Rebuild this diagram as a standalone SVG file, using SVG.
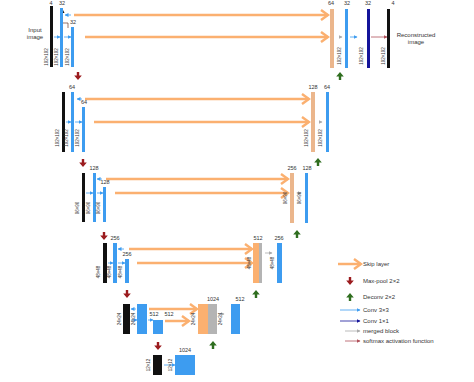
<svg xmlns="http://www.w3.org/2000/svg" width="474" height="382" viewBox="0 0 474 382">
<defs>
<style>
text{font-family:"Liberation Sans",Arial,sans-serif;fill:#333}
.lb{font-size:5.5px;text-anchor:middle}
.rl{font-size:4.5px;text-anchor:middle}
.lg{font-size:6px}
.io{font-size:6px;text-anchor:middle}
.k{fill:#111}
.b{fill:#3d9cf0}
.t{fill:#ebb68c}
.o{fill:#fbb070}
.g{fill:#b4b4b4}
.d{fill:#14149a}
.skip{stroke:#fbb070;stroke-width:2.5;fill:none;marker-end:url(#ma)}
.cv{stroke:#3d9cf0;stroke-width:0.8;fill:none;marker-end:url(#mb)}
.c1{stroke:#14149a;stroke-width:0.8;fill:none;marker-end:url(#md)}
.mg{stroke:#aaa;stroke-width:0.8;fill:none;marker-end:url(#mg)}
.sm{stroke:#b0505a;stroke-width:0.8;fill:none;marker-end:url(#mr)}
.mp{fill:#9b1b1e}
.dc{fill:#2f6e1f}
</style>
<marker id="ma" markerUnits="userSpaceOnUse" markerWidth="10" markerHeight="12" refX="8" refY="6" orient="auto"><path d="M1,1 L8,6 L1,11" fill="none" stroke="#fbb070" stroke-width="2.5"/></marker>
<marker id="mb" markerUnits="userSpaceOnUse" markerWidth="4" markerHeight="4" refX="3.5" refY="2" orient="auto"><path d="M0,0 L4,2 L0,4 Z" fill="#3d9cf0"/></marker>
<marker id="md" markerUnits="userSpaceOnUse" markerWidth="4" markerHeight="4" refX="3.5" refY="2" orient="auto"><path d="M0,0 L4,2 L0,4 Z" fill="#14149a"/></marker>
<marker id="mg" markerUnits="userSpaceOnUse" markerWidth="4" markerHeight="4" refX="3.5" refY="2" orient="auto"><path d="M0,0 L4,2 L0,4 Z" fill="#aaa"/></marker>
<marker id="mr" markerUnits="userSpaceOnUse" markerWidth="4" markerHeight="4" refX="3.5" refY="2" orient="auto"><path d="M0,0 L4,2 L0,4 Z" fill="#b0505a"/></marker>
<marker id="mk" markerUnits="userSpaceOnUse" markerWidth="5" markerHeight="5" refX="4" refY="2.5" orient="auto"><path d="M0,0 L5,2.5 L0,5 Z" fill="#111"/></marker>
<path id="dn" d="M-1.2,0 H1.2 V3.5 H3.8 L0,8 L-3.8,3.5 H-1.2 Z"/>
<path id="up" d="M-1.2,8 H1.2 V4.5 H3.8 L0,0 L-3.8,4.5 H-1.2 Z"/>
</defs>

<g id="connectors">
<path class="skip" d="M74,15 H328"/>
<path class="skip" d="M85,37 H328"/>
<path class="skip" d="M85,99 H309"/>
<path class="skip" d="M94,122 H309"/>
<path class="skip" d="M106,179 H288"/>
<path class="skip" d="M115,193 H288"/>
<path class="skip" d="M129,249 H252"/>
<path class="skip" d="M137,263 H252"/>
<path class="skip" d="M149,309 H197"/>
<path class="skip" d="M165,321 H189"/>
<path class="cv" d="M71,15 H65"/>
<path class="cv" d="M54,37 H60"/>
<path class="cv" d="M64,37 H71"/>
<path d="M62,23 H68 V28" fill="none" stroke="#6b3b2b" stroke-width="0.7"/>
<path d="M62,22 V9" fill="none" stroke="#111" stroke-width="0.8" marker-end="url(#mk)"/>
<path class="mg" d="M339,37 H342"/>
<path class="cv" d="M350,37 H357"/>
<path class="sm" d="M371,37 H387"/>
<path class="cv" d="M82,99 H77"/>
<path class="cv" d="M66,122 H71"/>
<path class="cv" d="M75,122 H82"/>
<path class="mg" d="M319,122 H322"/>
<path class="cv" d="M102,179 H97"/>
<path class="cv" d="M86,193 H93"/>
<path class="cv" d="M97,193 H103"/>
<path class="mg" d="M298,193 H301"/>
<path class="cv" d="M124,249 H118"/>
<path class="cv" d="M108,263 H113"/>
<path class="cv" d="M118,263 H125"/>
<path class="mg" d="M265,253 H272"/>
<path class="cv" d="M136,309 H131"/>
<path class="cv" d="M131,320 H137"/>
<path class="cv" d="M148,320 H153"/>
<path class="mg" d="M221,314 H224"/>
<path class="cv" d="M164,365 H175"/>
<use href="#dn" class="mp" x="78" y="72"/>
<use href="#dn" class="mp" x="83" y="159"/>
<use href="#dn" class="mp" x="104" y="232"/>
<use href="#dn" class="mp" x="127" y="290"/>
<use href="#dn" class="mp" x="158" y="342"/>
<use href="#up" class="dc" x="340" y="72"/>
<use href="#up" class="dc" x="318" y="158"/>
<use href="#up" class="dc" x="297" y="230"/>
<use href="#up" class="dc" x="256" y="290"/>
<use href="#up" class="dc" x="213" y="341"/>
</g>

<g id="input">
<text class="io" x="35" y="32">Input</text>
<text class="io" x="35" y="39">image</text>
<rect class="k" x="50" y="6" width="3" height="61"/>
<text class="lb" x="51" y="5">4</text>
<text class="rl" transform="translate(48,57) rotate(-90)">192×192</text>
</g>
<g id="enc1">
<rect class="b" x="60" y="8" width="3" height="59"/>
<text class="lb" x="62" y="5">32</text>
<text class="rl" transform="translate(58,57) rotate(-90)">192×192</text>
<rect class="b" x="71" y="27" width="3" height="40"/>
<text class="lb" x="73" y="24">32</text>
<text class="rl" transform="translate(69,57) rotate(-90)">192×192</text>
</g>
<g id="dec1">
<rect class="t" x="330" y="9" width="4" height="59"/>
<text class="lb" x="331" y="5">64</text>
<text class="rl" transform="translate(341,56) rotate(-90)">192×192</text>
<rect class="b" x="345" y="9" width="3" height="59"/>
<text class="lb" x="347" y="5">32</text>
</g>
<g id="conv1x1">
<rect class="d" x="367" y="9" width="3" height="59"/>
<text class="lb" x="368" y="5">32</text>
<text class="rl" transform="translate(363,56) rotate(-90)">192×192</text>
</g>
<g id="output">
<rect class="k" x="387" y="9" width="3" height="59"/>
<text class="lb" x="393" y="5">4</text>
<text class="rl" transform="translate(385,56) rotate(-90)">192×192</text>
<text class="io" x="416" y="37">Reconstructed</text>
<text class="io" x="416" y="44">image</text>
</g>

<g id="enc2">
<rect class="k" x="62" y="92" width="3" height="60"/>
<text class="rl" transform="translate(59,138) rotate(-90)">192×192</text>
<rect class="b" x="71" y="92" width="3" height="60"/>
<text class="lb" x="72" y="89">64</text>
<text class="rl" transform="translate(68,138) rotate(-90)">192×192</text>
<rect class="b" x="82" y="107" width="3" height="45"/>
<text class="lb" x="84" y="104">64</text>
<text class="rl" transform="translate(79,138) rotate(-90)">192×192</text>
</g>
<g id="dec2">
<rect class="t" x="311" y="92" width="4" height="60"/>
<text class="lb" x="313" y="89">128</text>
<text class="rl" transform="translate(308,138) rotate(-90)">192×192</text>
<rect class="b" x="326" y="92" width="3" height="60"/>
<text class="lb" x="327" y="89">64</text>
<text class="rl" transform="translate(322,138) rotate(-90)">192×192</text>
</g>

<g id="enc3">
<rect class="k" x="82" y="173" width="3" height="49"/>
<text class="rl" transform="translate(79,208) rotate(-90)">96×96</text>
<rect class="b" x="93" y="173" width="3" height="49"/>
<text class="lb" x="94" y="170">128</text>
<text class="rl" transform="translate(90,208) rotate(-90)">96×96</text>
<rect class="b" x="103" y="187" width="3" height="35"/>
<text class="lb" x="105" y="184">128</text>
<text class="rl" transform="translate(100,208) rotate(-90)">96×96</text>
</g>
<g id="dec3">
<rect class="t" x="290" y="173" width="4" height="50"/>
<text class="lb" x="292" y="170">256</text>
<text class="rl" transform="translate(287,198) rotate(-90)">96×96</text>
<rect class="b" x="305" y="173" width="3" height="50"/>
<text class="lb" x="307" y="170">128</text>
<text class="rl" transform="translate(301,198) rotate(-90)">96×96</text>
</g>

<g id="enc4">
<rect class="k" x="103" y="243" width="4" height="40"/>
<text class="rl" transform="translate(100,272) rotate(-90)">48×48</text>
<rect class="b" x="113" y="243" width="4" height="40"/>
<text class="lb" x="115" y="240">256</text>
<text class="rl" transform="translate(111,272) rotate(-90)">48×48</text>
<rect class="b" x="125" y="259" width="4" height="24"/>
<text class="lb" x="127" y="256">256</text>
<text class="rl" transform="translate(122,272) rotate(-90)">48×48</text>
</g>
<g id="dec4">
<rect class="o" x="253" y="243" width="6" height="40"/>
<rect class="g" x="259" y="243" width="3" height="40"/>
<text class="lb" x="258" y="240">512</text>
<text class="rl" transform="translate(251,263) rotate(-90)">48×48</text>
<rect class="b" x="277" y="243" width="5" height="40"/>
<text class="lb" x="279" y="240">256</text>
<text class="rl" transform="translate(274,263) rotate(-90)">48×48</text>
</g>

<g id="enc5">
<rect class="k" x="123" y="304" width="7" height="30"/>
<text class="rl" transform="translate(121,319) rotate(-90)">24×24</text>
<rect class="b" x="137" y="304" width="10" height="30"/>
<text class="lb" x="154" y="316">512</text>
<text class="rl" transform="translate(135,319) rotate(-90)">24×24</text>
<rect class="b" x="153" y="320" width="10" height="14"/>
<text class="lb" x="169" y="316">512</text>
</g>
<g id="dec5">
<rect class="o" x="198" y="304" width="10" height="30"/>
<rect class="g" x="208" y="304" width="9" height="30"/>
<text class="lb" x="213" y="301">1024</text>
<text class="rl" transform="translate(195,319) rotate(-90)">24×24</text>
<text class="rl" transform="translate(222,319) rotate(-90)">24×24</text>
<rect class="b" x="231" y="304" width="9" height="30"/>
<text class="lb" x="240" y="301">512</text>
</g>

<g id="bottleneck">
<rect class="k" x="153" y="355" width="9" height="20"/>
<text class="rl" transform="translate(150,365) rotate(-90)">12×12</text>
<rect class="b" x="175" y="355" width="20" height="20"/>
<text class="lb" x="185" y="352">1024</text>
<text class="rl" transform="translate(172,365) rotate(-90)">12×12</text>
</g>

<g id="legend">
<path class="skip" d="M338,264 H361"/>
<text class="lg" x="363" y="266">Skip layer</text>
<use href="#dn" class="mp" x="350" y="277"/>
<text class="lg" x="363" y="283">Max-pool 2×2</text>
<use href="#up" class="dc" x="350" y="293"/>
<text class="lg" x="363" y="299">Deconv 2×2</text>
<path class="cv" d="M340,310 H360"/>
<text class="lg" x="363" y="312">Conv 3×3</text>
<path class="c1" d="M340,321 H360"/>
<text class="lg" x="363" y="323">Conv 1×1</text>
<path class="mg" d="M345,331 H360"/>
<text class="lg" x="363" y="333">merged block</text>
<path class="sm" d="M345,341 H360"/>
<text class="lg" x="363" y="343">softmax activation function</text>
</g>
</svg>
